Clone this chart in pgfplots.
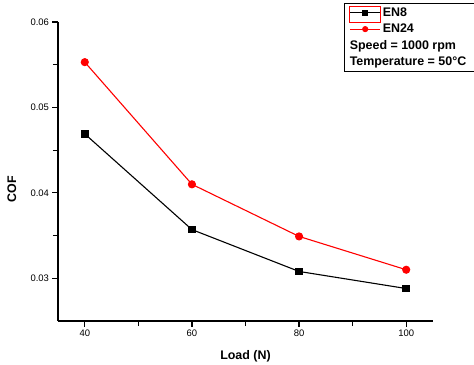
\documentclass[border=0pt]{standalone}
\usepackage{fontspec}
\setmainfont{Liberation Sans}
\usepackage{pgfplots}
\pgfplotsset{compat=1.18}
\begin{document}
\begin{tikzpicture}
\useasboundingbox (0,0) rectangle (474bp,365bp);
\begin{axis}[
  at={(58bp,44bp)}, anchor=south west,
  scale only axis, width=375bp, height=299bp,
  xmin=35, xmax=105, ymin=0.025, ymax=0.06,
  axis x line*=bottom, axis y line*=left,
  axis line style={line width=1.3bp},
  xtick={40,60,80,100}, minor xtick={50,70,90},
  ytick={0.03,0.04,0.05,0.06}, minor ytick={0.035,0.045,0.055},
  tick align=outside, major tick length=5.5bp, minor tick length=5bp,
  tick style={line width=1.2bp, black},
  yticklabel style={/pgf/number format/fixed, /pgf/number format/precision=2, /pgf/number format/fixed zerofill},
  scaled y ticks=false,
  /pgf/number format/assume math mode=true,
  ticklabel style={font=\fontsize{9.5}{11}\selectfont},
  xlabel={Load (N)}, ylabel={COF},
  label style={font=\fontsize{12.5}{14}\selectfont\bfseries},
  xlabel style={at={(axis description cs:0.5,-0.117)}, anchor=center},
  ylabel style={at={(axis description cs:-0.123,0.44)}, anchor=center},
  legend style={at={(axis description cs:0.7627,1.0635)}, anchor=north west, draw=black, line width=1.3bp,
    font=\fontsize{12.5}{13}\selectfont\bfseries, cells={anchor=west}, row sep=2.2bp, inner xsep=5bp, inner ysep=2bp,
    column sep=0bp},
  legend image code/.code={\draw[#1, mark repeat=2, mark phase=2, mark size=2.5bp] plot coordinates {(0bp,0bp) (15bp,0bp) (30bp,0bp)};},
]
\addplot[black, line width=1.1bp, mark=square*, mark size=3.3bp] coordinates {(40,0.0469)(60,0.0357)(80,0.0308)(100,0.0288)};
\addlegendentry{EN8}
\addplot[red, line width=1.1bp, mark=*, mark size=3.5bp] coordinates {(40,0.0553)(60,0.0410)(80,0.0349)(100,0.0310)};
\addlegendentry{EN24}
\addlegendimage{empty legend}
\addlegendentry{\hspace{-33bp}Speed = 1000 rpm}
\addlegendimage{empty legend}
\addlegendentry{\hspace{-33bp}Temperature = 50°C\hspace*{30bp}\mbox{}}
\end{axis}
\draw[red, line width=0.9bp] (349bp,359bp) rectangle (380bp,343bp);
\end{tikzpicture}
\end{document}
